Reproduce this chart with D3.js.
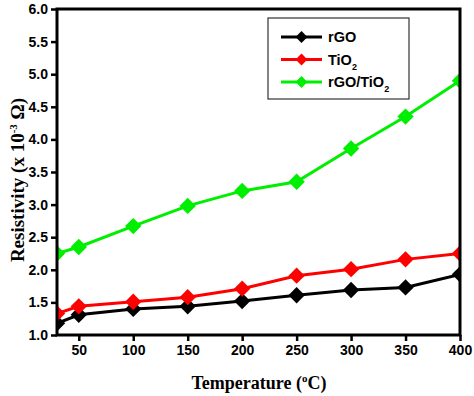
<!DOCTYPE html>
<html lang="en">

<head>
  <meta charset="utf-8">
  <title>Resistivity vs temperature</title>
  <script type="text/javascript" src="https://d3js.org/d3.v7.min.js"></script>
  <style>
    body { margin: 0; background: #fff; }
    .tick text { font-family: "Liberation Sans", Arial, sans-serif; font-weight: bold; font-size: 14px; }
    .title { font-family: "Liberation Serif", "Times New Roman", serif; font-weight: bold; font-size: 18px; }
  </style>
</head>

<body>
  <script type="text/javascript">
    var w = 474;
    var h = 396;

    // data
    var temperature = [30, 50, 100, 150, 200, 250, 300, 350, 400];
    var rGO = [1.18, 1.31, 1.40, 1.44, 1.52, 1.61, 1.69, 1.73, 1.93];
    var tio2 = [1.33, 1.44, 1.51, 1.58, 1.71, 1.91, 2.01, 2.16, 2.25];
    var rgoTio2 = [2.25, 2.35, 2.67, 2.98, 3.21, 3.35, 3.86, 4.35, 4.90];
    var xTicks = [50, 100, 150, 200, 250, 300, 350, 400];
    var yTicks = [1.0, 1.5, 2.0, 2.5, 3.0, 3.5, 4.0, 4.5, 5.0, 5.5, 6.0];

    var series = [
      { name: "rGO", sub: "", values: rGO, color: "#000000" },
      { name: "TiO", sub: "2", values: tio2, color: "#ff0000" },
      { name: "rGO/TiO", sub: "2", values: rgoTio2, color: "#00ee00" }
    ];

    var m = { left: 57, right: 460, top: 9, bottom: 335 };

    var svg = d3.select("body").append("svg")
      .attr("width", w)
      .attr("height", h);

    var x = d3.scaleLinear().domain([30, 400]).range([m.left, m.right]);
    var y = d3.scaleLinear().domain([1, 6]).range([m.bottom, m.top]);

    svg.append("clipPath").attr("id", "clip")
      .append("rect")
      .attr("x", m.left).attr("y", m.top)
      .attr("width", m.right - m.left).attr("height", m.bottom - m.top);

    var line = d3.line()
      .x(function(d, i) { return x(temperature[i]); })
      .y(function(d) { return y(d); });

    var diamond = d3.symbol().type(d3.symbolDiamond2).size(170);

    var plot = svg.append("g").attr("clip-path", "url(#clip)");

    series.forEach(function(s) {
      plot.append("path")
        .attr("d", line(s.values))
        .attr("fill", "none")
        .attr("stroke", s.color)
        .attr("stroke-width", 3);

      plot.selectAll(null)
        .data(s.values)
        .enter()
        .append("path")
        .attr("d", diamond)
        .attr("transform", function(d, i) {
          return "translate(" + x(temperature[i]) + "," + y(d) + ")";
        })
        .attr("fill", s.color);
    });

    // axes
    var xAxis = svg.append("g")
      .attr("transform", "translate(0," + m.bottom + ")")
      .call(d3.axisBottom(x).tickValues(xTicks).tickSize(6).tickPadding(4).tickSizeOuter(0));
    var yAxis = svg.append("g")
      .attr("transform", "translate(" + m.left + ",0)")
      .call(d3.axisLeft(y).tickValues(yTicks).tickFormat(d3.format(".1f")).tickSize(6).tickPadding(3).tickSizeOuter(0));

    [xAxis, yAxis].forEach(function(a) {
      a.select(".domain").remove();
      a.selectAll(".tick line").attr("stroke", "#000").attr("stroke-width", 2.5);
      a.selectAll(".tick text").attr("fill", "#000");
    });

    // frame
    svg.append("rect")
      .attr("x", m.left).attr("y", m.top)
      .attr("width", m.right - m.left).attr("height", m.bottom - m.top)
      .attr("fill", "none")
      .attr("stroke", "#000")
      .attr("stroke-width", 3);

    // legend
    var lg = svg.append("g");
    lg.append("rect")
      .attr("x", 268).attr("y", 18)
      .attr("width", 141).attr("height", 81)
      .attr("fill", "#fff")
      .attr("stroke", "#333")
      .attr("stroke-width", 1.2);

    series.forEach(function(s, i) {
      var yy = 37 + i * 22.5;
      lg.append("line")
        .attr("x1", 281).attr("x2", 322)
        .attr("y1", yy).attr("y2", yy)
        .attr("stroke", s.color)
        .attr("stroke-width", 3);
      lg.append("path")
        .attr("d", d3.symbol().type(d3.symbolDiamond2).size(90))
        .attr("transform", "translate(301.5," + yy + ")")
        .attr("fill", s.color);
      var t = lg.append("text")
        .attr("x", 328).attr("y", yy + 5)
        .style("font-family", "Liberation Sans, Arial, sans-serif")
        .style("font-weight", "bold")
        .style("font-size", "14.5px")
        .text(s.name);
      if (s.sub) {
        t.append("tspan")
          .attr("dy", 5)
          .style("font-size", "9px")
          .text(s.sub);
      }
    });

    // axis titles
    var xt = svg.append("text")
      .attr("class", "title")
      .attr("x", 259).attr("y", 389)
      .attr("text-anchor", "middle")
      .text("Temperature (");
    xt.append("tspan").attr("dy", -7).style("font-size", "11px").text("o");
    xt.append("tspan").attr("dy", 7).text("C)");

    var yt = svg.append("text")
      .attr("class", "title")
      .style("font-size", "19px")
      .attr("transform", "translate(24,180) rotate(-90)")
      .attr("text-anchor", "middle")
      .text("Resistivity (x 10");
    yt.append("tspan").attr("dy", -7).style("font-size", "11px").text("-3");
    yt.append("tspan").attr("dy", 7).text(" \u03A9)");
  </script>
</body>

</html>
